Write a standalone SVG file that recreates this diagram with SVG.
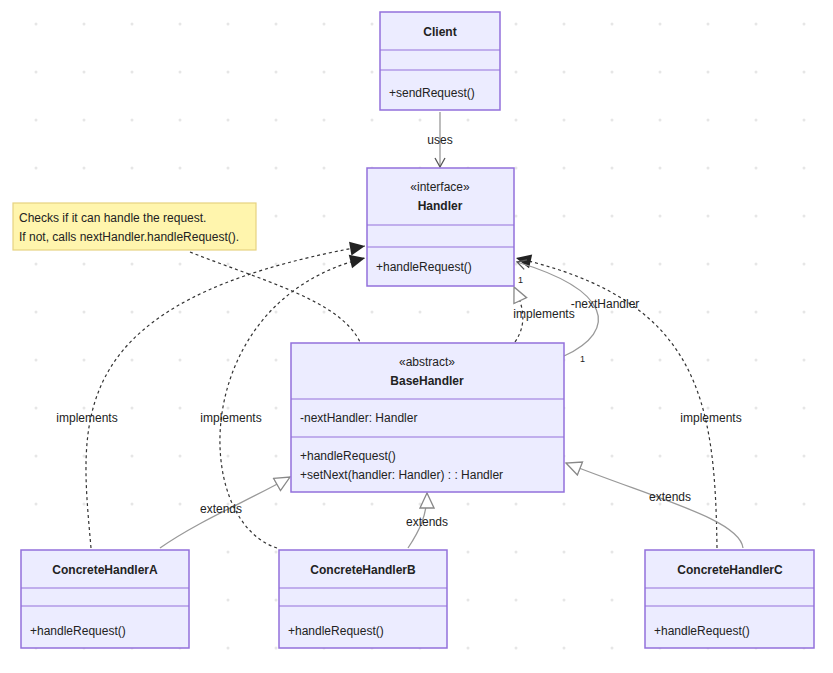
<svg xmlns="http://www.w3.org/2000/svg" width="833" height="673" viewBox="0 0 833 673">
<defs>
<pattern id="dots" width="48" height="48" patternUnits="userSpaceOnUse" x="12" y="0"><circle cx="24" cy="24" r="1.5" fill="#e6e6e6"/></pattern>
<marker id="open" markerWidth="12" markerHeight="12" refX="10" refY="6" orient="auto" markerUnits="userSpaceOnUse"><path d="M1,1 L10,6 L1,11" fill="none" stroke="#555" stroke-width="1.3"/></marker>
<marker id="fill" markerWidth="18" markerHeight="16" refX="16" refY="8" orient="auto" markerUnits="userSpaceOnUse"><path d="M1,1 L16,8 L1,15 Z" fill="#222"/></marker>
<marker id="hollow" markerWidth="18" markerHeight="16" refX="16" refY="8" orient="auto" markerUnits="userSpaceOnUse"><path d="M1,1 L16,8 L1,15 Z" fill="#fff" stroke="#888" stroke-width="1.3"/></marker>
</defs>
<style>
.box{fill:#ececff;stroke:#9370db;stroke-width:1.5}
.sep{stroke:#9370db;stroke-width:1.2}
text{font-family:"Liberation Sans",Arial,sans-serif;font-size:12px;fill:#222}
.t{font-weight:bold;text-anchor:middle}
.c{text-anchor:middle}
.lbl{text-anchor:middle;font-size:12px}
.dash{fill:none;stroke:#333;stroke-width:1.2;stroke-dasharray:3,3}
.solid{fill:none;stroke:#999;stroke-width:1.3}
</style>
<rect width="833" height="673" fill="#fff"/>
<rect width="833" height="673" fill="url(#dots)"/>
<g id="connectors">
<path class="solid" d="M440,112 L440,167" marker-end="url(#open)"/>
<path class="dash" d="M91,548 C80,420 60,300 365,246" marker-end="url(#fill)"/>
<path class="dash" d="M277,548 C190,520 190,300 365,258" marker-end="url(#fill)"/>
<path class="dash" d="M717,548 C715,400 700,300 516,258" marker-end="url(#fill)"/>
<path class="dash" d="M515,342 C530,320 520,300 514,287" marker-end="url(#hollow)"/>
<path class="solid" d="M564,356 C620,330 610,290 517,262" marker-end="url(#open)"/>
<path class="solid" d="M160,548 C200,520 250,500 290,477" marker-end="url(#hollow)"/>
<path class="solid" d="M408,548 C420,530 427,515 427,493" marker-end="url(#hollow)"/>
<path class="solid" d="M743,548 C740,520 660,500 566,463" marker-end="url(#hollow)"/>
<path class="dash" d="M190,252 C260,280 340,300 360,342"/>
<text class="lbl" x="440" y="144">uses</text>
<text class="lbl" x="87" y="422">implements</text>
<text class="lbl" x="231" y="422">implements</text>
<text class="lbl" x="711" y="422">implements</text>
<text class="lbl" x="544" y="318">implements</text>
<text class="lbl" x="605" y="308">-nextHandler</text>
<text x="518" y="283" style="font-size:9px">1</text>
<text x="580" y="362" style="font-size:9px">1</text>
<text class="lbl" x="221" y="513">extends</text>
<text class="lbl" x="427" y="526">extends</text>
<text class="lbl" x="670" y="501">extends</text>
</g>
<g id="note">
<rect x="13" y="203" width="243" height="47" fill="#fff5ad" stroke="#e6d280" stroke-width="1.2"/>
<text x="19" y="222">Checks if it can handle the request.</text>
<text x="19" y="241">If not, calls nextHandler.handleRequest().</text>
</g>
<g id="Client">
<rect class="box" x="380" y="12" width="120" height="98"/>
<line class="sep" x1="380" y1="50" x2="500" y2="50"/>
<line class="sep" x1="380" y1="70" x2="500" y2="70"/>
<text class="t" x="440" y="36">Client</text>
<text x="389" y="97">+sendRequest()</text>
</g>
<g id="Handler">
<rect class="box" x="367" y="168" width="147" height="118"/>
<line class="sep" x1="367" y1="225" x2="514" y2="225"/>
<line class="sep" x1="367" y1="247" x2="514" y2="247"/>
<text class="c" x="440" y="191">«interface»</text>
<text class="t" x="440" y="210">Handler</text>
<text x="376" y="271">+handleRequest()</text>
</g>
<g id="BaseHandler">
<rect class="box" x="291" y="343" width="273" height="149"/>
<line class="sep" x1="291" y1="399" x2="564" y2="399"/>
<line class="sep" x1="291" y1="437" x2="564" y2="437"/>
<text class="c" x="427" y="366">«abstract»</text>
<text class="t" x="427" y="385">BaseHandler</text>
<text x="300" y="422">-nextHandler: Handler</text>
<text x="300" y="460">+handleRequest()</text>
<text x="300" y="479">+setNext(handler: Handler) : : Handler</text>
</g>
<g id="ConcreteHandlerA">
<rect class="box" x="21" y="550" width="168" height="98"/>
<line class="sep" x1="21" y1="588" x2="189" y2="588"/>
<line class="sep" x1="21" y1="606" x2="189" y2="606"/>
<text class="t" x="105" y="574">ConcreteHandlerA</text>
<text x="30" y="635">+handleRequest()</text>
</g>
<g id="ConcreteHandlerB">
<rect class="box" x="279" y="550" width="168" height="98"/>
<line class="sep" x1="279" y1="588" x2="447" y2="588"/>
<line class="sep" x1="279" y1="606" x2="447" y2="606"/>
<text class="t" x="363" y="574">ConcreteHandlerB</text>
<text x="288" y="635">+handleRequest()</text>
</g>
<g id="ConcreteHandlerC">
<rect class="box" x="645" y="550" width="169" height="98"/>
<line class="sep" x1="645" y1="588" x2="814" y2="588"/>
<line class="sep" x1="645" y1="606" x2="814" y2="606"/>
<text class="t" x="730" y="574">ConcreteHandlerC</text>
<text x="654" y="635">+handleRequest()</text>
</g>
</svg>
